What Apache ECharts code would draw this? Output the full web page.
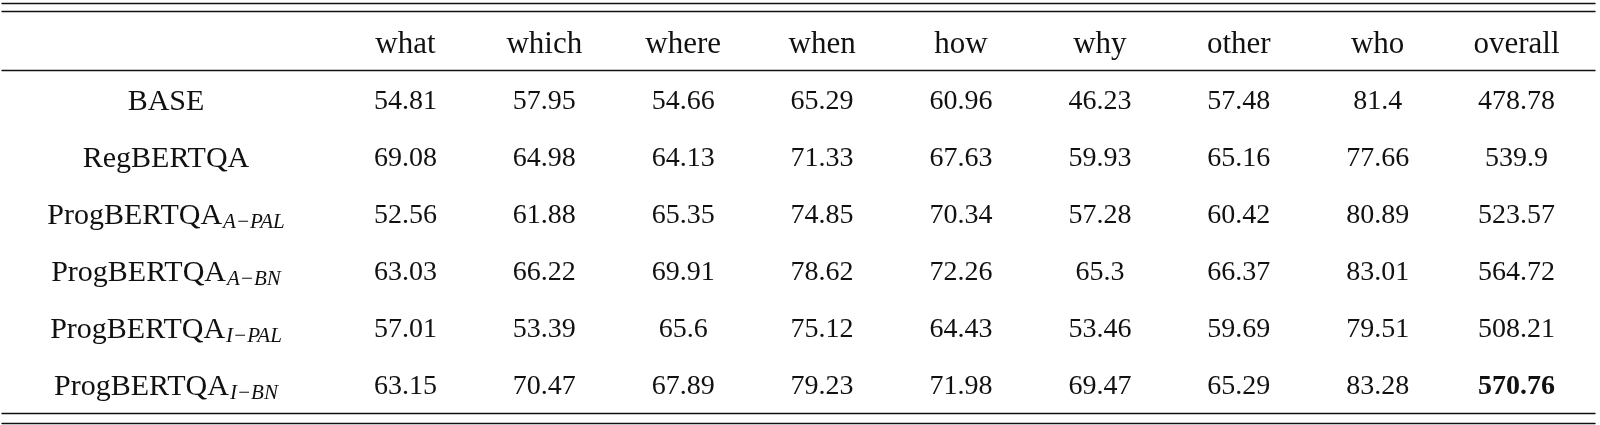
<!DOCTYPE html>
<html><head><meta charset="utf-8">
<script src="https://cdn.jsdelivr.net/npm/echarts@6/dist/echarts.min.js"></script>
<style>html,body{margin:0;padding:0;background:#fff}#c{width:1600px;height:425px}</style>
</head><body><div id="c"></div>
<script>
// ---- data ----
const columns = ['what', 'which', 'where', 'when', 'how', 'why', 'other', 'who', 'overall'];
const modelNames = ['BASE', 'RegBERTQA', 'ProgBERTQA', 'ProgBERTQA', 'ProgBERTQA', 'ProgBERTQA'];
const modelSubs = ['', '', 'A−PAL', 'A−BN', 'I−PAL', 'I−BN'];
const what = [54.81, 69.08, 52.56, 63.03, 57.01, 63.15];
const which = [57.95, 64.98, 61.88, 66.22, 53.39, 70.47];
const where = [54.66, 64.13, 65.35, 69.91, 65.6, 67.89];
const when = [65.29, 71.33, 74.85, 78.62, 75.12, 79.23];
const how = [60.96, 67.63, 70.34, 72.26, 64.43, 71.98];
const why = [46.23, 59.93, 57.28, 65.3, 53.46, 69.47];
const other = [57.48, 65.16, 60.42, 66.37, 59.69, 65.29];
const who = [81.4, 77.66, 80.89, 83.01, 79.51, 83.28];
const overall = [478.78, 539.9, 523.57, 564.72, 508.21, 570.76];

// ---- build ----
const valueCols = [what, which, where, when, how, why, other, who, overall];
const bestOverall = Math.max.apply(null, overall);
const FONT = '"Liberation Serif", "Times New Roman", serif';
const INK = '#111';

const cells = [];
valueCols.forEach((col, c) => {
  col.forEach((v, r) => {
    cells.push([c, r, v, (c === columns.length - 1 && v === bestOverall) ? 1 : 0]);
  });
});

const rowKeys = modelNames.map((n, i) => n + '_' + modelSubs[i]);

function rule(position, offset) {
  return {
    type: 'value', gridIndex: 1, min: 0, max: 1, position: position, offset: offset,
    axisLine: { show: true, onZero: false, lineStyle: { color: INK, width: 1.4 } },
    axisTick: { show: false }, axisLabel: { show: false }, splitLine: { show: false }
  };
}

const chart = echarts.init(document.getElementById('c'), null, { renderer: 'canvas' });
chart.setOption({
  animation: false,
  backgroundColor: '#fff',
  grid: [
    { left: 336, right: 14, top: 73.5, bottom: 9.5 },
    { left: 2, right: 5, top: 3, bottom: 2 }
  ],
  xAxis: [
    {
      type: 'category', gridIndex: 0, data: columns, position: 'top',
      axisLine: { show: false }, axisTick: { show: false }, splitLine: { show: false },
      axisLabel: {
        margin: 28.5, verticalAlign: 'middle', fontFamily: FONT, fontSize: 31, color: INK,
        interval: 0
      }
    },
    rule('top', 0),
    rule('top', -8),
    rule('top', -67),
    rule('bottom', -10),
    rule('bottom', 0)
  ],
  yAxis: [
    {
      type: 'category', gridIndex: 0, data: rowKeys, inverse: true,
      axisLine: { show: false }, axisTick: { show: false }, splitLine: { show: false },
      axisLabel: {
        interval: 0, margin: 170, align: 'center',
        formatter: function (val, idx) {
          const s = modelSubs[idx];
          return s ? '{m|' + modelNames[idx] + '}{s|' + s + '}' : '{m|' + modelNames[idx] + '}';
        },
        rich: {
          m: { fontFamily: FONT, fontSize: 30, lineHeight: 32, color: INK },
          s: { fontFamily: FONT, fontStyle: 'italic', fontSize: 21, lineHeight: 22, color: INK, padding: [12, 0, 0, 1] }
        }
      }
    },
    { type: 'value', gridIndex: 1, min: 0, max: 1, show: false }
  ],
  series: [{
    type: 'custom', xAxisIndex: 0, yAxisIndex: 0, silent: true,
    encode: { x: 0, y: 1 },
    renderItem: function (params, api) {
      const pt = api.coord([api.value(0), api.value(1)]);
      const bold = api.value(3) === 1;
      return {
        type: 'text',
        x: pt[0], y: pt[1],
        style: {
          text: String(api.value(2)),
          fill: INK,
          fontFamily: FONT,
          fontSize: 28,
          fontWeight: bold ? 'bold' : 'normal',
          align: 'center',
          verticalAlign: 'middle'
        }
      };
    },
    data: cells
  }]
});
</script>
</body></html>
